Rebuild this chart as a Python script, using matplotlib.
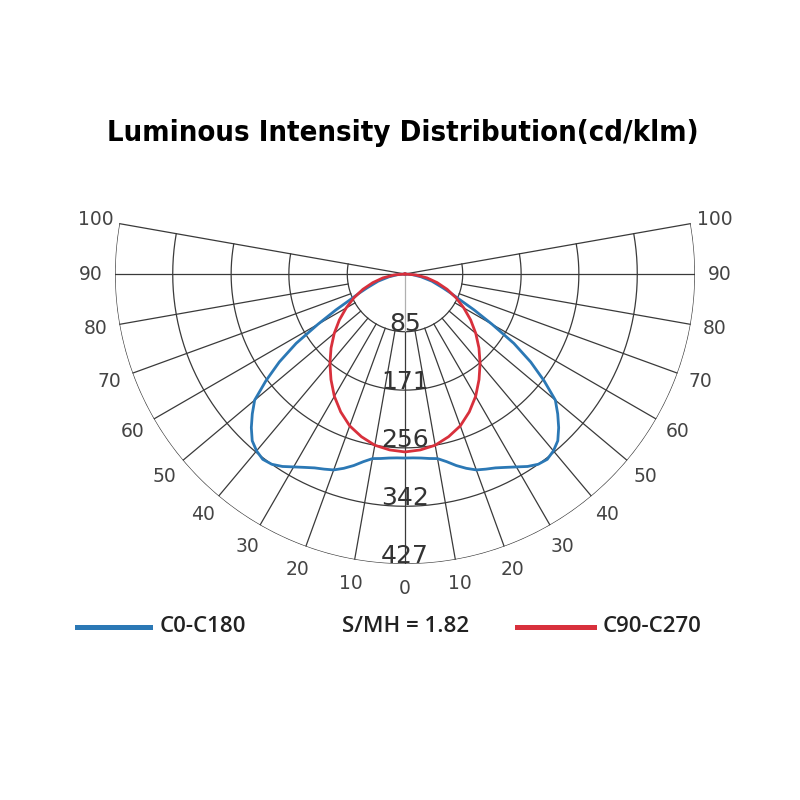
import numpy as np
import matplotlib
matplotlib.use("Agg")
import matplotlib.pyplot as plt
from matplotlib.lines import Line2D
from matplotlib import font_manager
from matplotlib.font_manager import FontProperties

# Intensity (cd/klm), gamma = degrees from nadir
gamma_c0 = [0, 2.5, 5, 7.5, 10, 12.5, 15, 17.5, 20, 22.5, 25, 27.5, 30, 32.5,
            35, 37.5, 40, 42.5, 45, 47.5, 50, 52.5, 55, 57.5, 60, 62.5, 65,
            67.5, 70, 75, 80, 85, 90]
c0_c180 = [271, 271, 272, 274, 276, 283, 292, 300, 307, 311, 315, 321, 328, 336,
           342, 344, 340, 333, 320, 305, 289, 258, 226, 190, 148, 115, 88,
           72, 59, 41, 24, 11, 0]

gamma_c90 = [0, 5, 10, 15, 20, 25, 30, 35, 40, 45, 50, 55, 60, 65, 70, 75, 80, 85, 90]
c90_c270 = [262, 260, 256, 248, 238, 224, 208, 190, 172, 154, 136, 118, 100, 83,
            66, 49, 33, 16, 0]

ring_values = [85, 171, 256, 342, 427]
angle_ticks = [0, 10, 20, 30, 40, 50, 60, 70, 80, 90, 100]

title = "Luminous Intensity Distribution(cd/klm)"
label_c0 = "C0-C180"
label_c90 = "C90-C270"
smh_text = "S/MH = 1.82"

blue = "#2b78b5"
red = "#d8303c"
grid_col = "#3a3a3a"


def pick_font(names):
    for n in names:
        try:
            font_manager.findfont(n, fallback_to_default=False)
            return n
        except Exception:
            pass
    return "DejaVu Sans"


legend_font = pick_font(["Open Sans", "Noto Sans"])

# condensed heavy face for the title if one is installed
title_props = None
for fam in ["Liberation Sans Narrow", "DejaVu Sans", "Noto Sans", "Roboto"]:
    fp = FontProperties(family=fam, weight="bold", stretch="condensed")
    try:
        path = font_manager.findfont(fp, fallback_to_default=False)
    except Exception:
        continue
    if "ondensed" in path or "arrow" in path:
        title_props = FontProperties(fname=path, size=21)
        break
if title_props is None:
    title_props = FontProperties(family=pick_font(["Roboto", "DejaVu Sans"]),
                                 weight="heavy", size=24)

fig = plt.figure(figsize=(8, 8), dpi=100)

cx, cy, R = 405 / 800, 1 - 274 / 800, 290 / 800
ax = fig.add_axes([cx - R, cy - R, 2 * R, 2 * R], projection="polar")
ax.set_theta_zero_location("S")
ax.set_theta_direction(1)
rmax = ring_values[-1]
ax.set_ylim(0, rmax)
ax.grid(False)
ax.set_xticks([])
ax.set_yticks([])
ax.spines["polar"].set_visible(False)
ax.patch.set_alpha(0)

# rings over -100..100 degrees
arc = np.radians(np.linspace(-100, 100, 401))
for rv in ring_values:
    ax.plot(arc, np.full_like(arc, rv), color=grid_col, lw=0.9, zorder=1)

# radial lines
for a in range(-100, 101, 10):
    t = np.radians(a)
    if a == 0:
        ax.plot([t, t], [0, ring_values[0]], color="#b0b0b0", lw=0.9, zorder=1)
        ax.plot([t, t], [ring_values[0], rmax], color=grid_col, lw=0.9, zorder=1)
    elif abs(a) >= 90:
        ax.plot([t, t], [0, rmax], color=grid_col, lw=0.9, zorder=1)
    else:
        ax.plot([t, t], [ring_values[0], rmax], color=grid_col, lw=0.9, zorder=1)

# curves (symmetric halves)
g0 = np.array(gamma_c0)
v0 = np.array(c0_c180)
ax.plot(np.radians(np.concatenate([-g0[::-1], g0[1:]])),
        np.concatenate([v0[::-1], v0[1:]]), color=blue, lw=2.0, zorder=3,
        solid_joinstyle="round")
g9 = np.array(gamma_c90)
v9 = np.array(c90_c270)
ax.plot(np.radians(np.concatenate([-g9[::-1], g9[1:]])),
        np.concatenate([v9[::-1], v9[1:]]), color=red, lw=2.0, zorder=4,
        solid_joinstyle="round")

# ring value labels
for rv in ring_values:
    ax.text(0, rv - 12, str(rv), ha="center", va="center", fontsize=18,
            color="#333333", zorder=5)

# angle labels both sides
for a in angle_ticks:
    sides = [a] if a == 0 else [a, -a]
    for s in sides:
        ax.text(np.radians(s), 463, str(a), ha="center", va="center",
                fontsize=13.5, color="#444444", clip_on=False)

fig.text(0.504, 1 - 133 / 800, title, ha="center", va="center",
         fontproperties=title_props, color="black")

ly = 1 - 627 / 800
fig.add_artist(Line2D([77 / 800, 150 / 800], [ly, ly], color=blue, lw=3.6,
                      transform=fig.transFigure))
fig.add_artist(Line2D([517 / 800, 594 / 800], [ly, ly], color=red, lw=3.6,
                      transform=fig.transFigure))
fig.text(160 / 800, ly, label_c0, ha="left", va="center", fontsize=16,
         fontweight="semibold", family=legend_font, color="#222222")
fig.text(603 / 800, ly, label_c90, ha="left", va="center", fontsize=16,
         fontweight="semibold", family=legend_font, color="#222222")
fig.text(406 / 800, ly, smh_text, ha="center", va="center", fontsize=16,
         fontweight="semibold", family=legend_font, color="#222222")

fig.savefig("out.png", dpi=100)
